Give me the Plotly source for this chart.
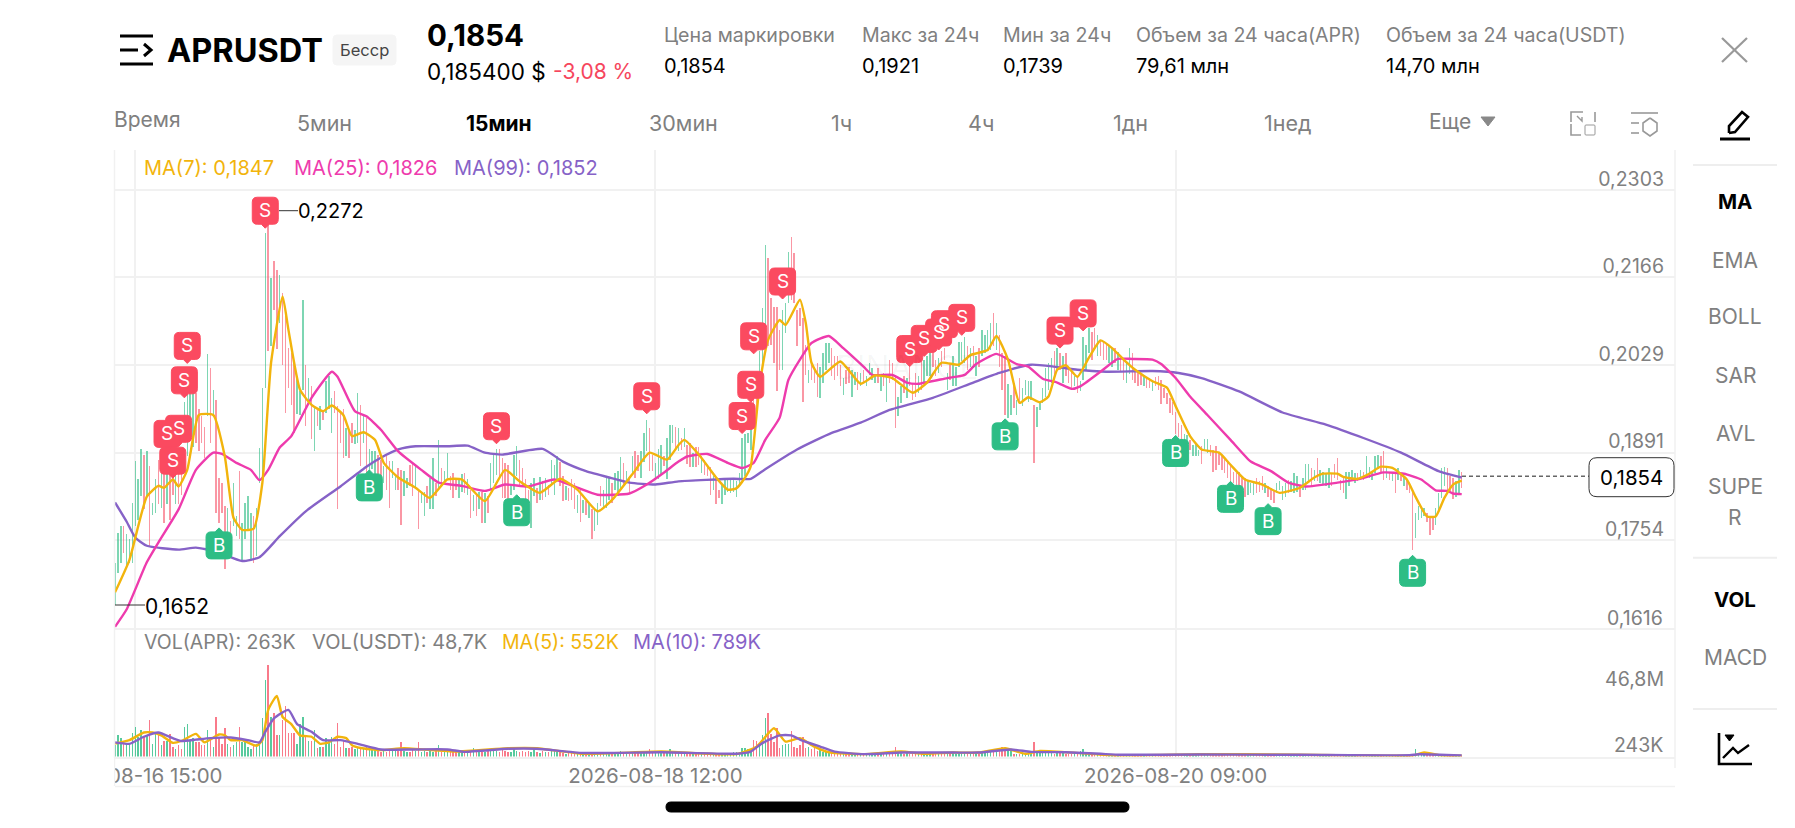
import pandas as pd
import plotly.graph_objects as go

W, H = 1795, 828

# 15 minute candles, prices are price * 10000
start_time = "2026-08-16 13:15"
highs = [
    1718,1765,1776,1776,1763,1755,1812,1878,1849,1896,
    1888,1893,1870,1812,1849,1880,1885,1870,1860,1890,
    1872,1865,1885,1880,1970,1985,1990,1985,1985,1960,
    1948,1932,2045,2024,1990,1974,1852,1844,1807,1805,
    1784,1844,1792,1862,1781,1812,1823,1797,1792,1805,
    1899,1992,2235,2272,2165,2191,2178,2170,2141,2105,
    2055,2047,2032,2006,1987,2131,2029,2008,1995,1961,
    1959,1964,1958,2003,2011,1977,1987,1964,1953,1959,
    1930,1927,1938,1927,1985,1966,1951,1946,1896,1893,
    1893,1888,1880,1870,1886,1878,1878,1857,1867,1864,
    1862,1851,1872,1875,1870,1833,1828,1830,1838,1851,
    1883,1843,1911,1867,1862,1891,1854,1859,1849,1849,
    1857,1859,1849,1833,1825,1825,1830,1830,1828,1823,
    1875,1888,1897,1896,1883,1875,1872,1841,1888,1902,
    1880,1867,1849,1833,1843,1851,1836,1853,1846,1851,
    1841,1880,1872,1885,1877,1854,1838,1836,1849,1843,
    1825,1836,1817,1815,1812,1802,1802,1812,1839,1833,
    1851,1851,1843,1859,1862,1884,1875,1862,1849,1885,
    1893,1888,1893,1922,1943,1930,1888,1875,1896,1903,
    1885,1914,1935,1935,1932,1930,1914,1929,1903,1906,
    1890,1900,1900,1885,1880,1869,1869,1854,1851,1833,
    1840,1848,1848,1848,1848,1846,1859,1914,1921,1922,
    1935,1974,1979,2050,2118,2217,2196,2133,2120,2120,
    2084,2115,2125,2206,2230,2204,2115,2118,2102,2060,
    2021,2031,2026,2031,2026,2047,2063,2063,2055,2042,
    2042,2029,2008,2021,2026,2021,2018,2018,2016,2021,
    2011,2031,2024,2013,2024,2011,2016,2011,2037,2031,
    2013,1979,1995,2011,2008,2031,2000,2016,2011,2034,
    2037,2042,2050,2052,2037,2039,2050,2055,2016,2031,
    2042,2026,2065,2065,2073,2058,2055,2058,2042,2055,
    2084,2076,2084,2094,2110,2094,2076,2047,2042,1998,
    1982,2000,1974,2008,1992,2005,2003,2003,1966,1963,
    1971,1992,2024,2031,2039,2050,2055,2047,2042,2047,
    2026,2021,2011,2011,2003,2073,2060,2086,2081,2086,
    2075,2068,2065,2062,2060,2055,2055,2049,2039,2036,
    2034,2055,2047,2021,2018,2013,2013,2010,2008,2005,
    2010,2011,2005,1992,1984,1976,1971,1955,1937,1934,
    1921,1919,1911,1903,1906,1895,1901,1912,1912,1903,
    1895,1901,1890,1885,1882,1880,1872,1861,1859,1861,
    1854,1851,1848,1843,1843,1851,1846,1854,1843,1838,
    1835,1833,1843,1846,1838,1843,1848,1846,1859,1854,
    1841,1851,1874,1874,1867,1864,1882,1864,1861,1859,
    1867,1859,1874,1882,1848,1854,1861,1861,1864,1859,
    1859,1864,1861,1885,1869,1861,1885,1887,1885,1893,
    1869,1861,1861,1861,1867,1859,1854,1848,1840,1833,
    1796,1807,1804,1804,1796,1791,1791,1804,1827,1867,
    1869,1867,1854,1851,1846,1864,1861,
]
lows = [
    1652,1703,1718,1734,1708,1718,1718,1776,1786,1823,
    1802,1823,1745,1794,1797,1810,1805,1780,1810,1785,
    1825,1810,1810,1825,1920,1885,1925,1900,1906,1893,
    1906,1883,1948,1906,1950,1797,1781,1797,1708,1765,
    1739,1776,1760,1755,1721,1755,1771,1724,1718,1729,
    1844,1854,1992,2050,2058,2115,2053,2094,2029,1953,
    1993,1966,1922,1951,1950,1990,1933,1972,1912,1893,
    1933,1927,1942,1953,1959,1922,1953,1802,1906,1883,
    1886,1883,1906,1904,1906,1870,1906,1859,1859,1865,
    1844,1839,1839,1844,1833,1805,1852,1833,1833,1777,
    1823,1836,1838,1823,1836,1771,1812,1792,1812,1802,
    1802,1823,1836,1843,1843,1851,1833,1820,1833,1820,
    1830,1828,1825,1789,1799,1791,1802,1781,1781,1796,
    1833,1843,1856,1849,1820,1820,1812,1825,1833,1854,
    1838,1841,1812,1807,1773,1823,1812,1817,1817,1822,
    1825,1838,1825,1849,1838,1815,1817,1815,1817,1802,
    1796,1783,1796,1794,1789,1756,1768,1778,1807,1802,
    1804,1817,1812,1833,1823,1833,1841,1843,1828,1857,
    1851,1862,1851,1877,1893,1862,1862,1849,1849,1856,
    1870,1849,1880,1906,1896,1893,1895,1900,1874,1869,
    1869,1869,1872,1859,1856,1854,1825,1833,1810,1820,
    1810,1825,1830,1828,1830,1822,1838,1848,1854,1906,
    1895,1932,1943,2011,2026,2068,2058,2060,2031,1987,
    2021,2021,2078,2125,2131,2125,2058,2089,1971,2013,
    2000,2005,2000,1979,1977,2000,2021,2031,2011,2005,
    2011,1995,1982,1998,2000,1979,1997,1990,1995,2000,
    1995,2013,2005,2000,2000,1987,1995,1971,2000,2005,
    1930,1948,1969,1984,1977,1995,1974,1979,1984,1990,
    2000,2011,2011,2026,2011,2016,2026,2037,1990,2005,
    1995,1995,2026,2034,2031,2021,2026,2024,2011,2026,
    2042,2047,2050,2052,2058,2052,2026,1990,1950,1945,
    1950,1961,1950,1969,1964,1982,1971,1974,1875,1932,
    1958,1969,1979,1990,2000,2011,2021,2021,2000,2011,
    2000,1990,1995,1984,1987,2005,2021,2047,2036,2055,
    2042,2042,2036,2036,2031,2026,2031,2021,2018,2005,
    2000,2015,2005,2000,1995,1997,1995,1992,1992,1987,
    1995,1989,1968,1976,1968,1953,1950,1921,1916,1911,
    1903,1901,1895,1885,1885,1885,1874,1893,1890,1885,
    1861,1864,1872,1864,1859,1851,1846,1843,1838,1833,
    1835,1822,1825,1827,1825,1827,1830,1833,1827,1822,
    1817,1812,1827,1833,1817,1822,1827,1830,1827,1830,
    1822,1833,1833,1843,1838,1846,1846,1843,1841,1838,
    1835,1838,1851,1848,1833,1827,1818,1838,1846,1843,
    1846,1851,1848,1854,1851,1848,1859,1867,1859,1848,
    1851,1848,1846,1827,1848,1846,1838,1833,1827,1739,
    1757,1786,1788,1791,1783,1762,1770,1778,1801,1820,
    1838,1833,1827,1818,1822,1827,1835,
]
sides = (
    "gggrgggggg" "rgrggrgrgr" "rgrrggggrr" "rrgrgrrrrg" "rggrggggrg"
    "gggrgrrgrr" "rrrgggrgrg" "rgrgggrrrr" "grrggrgrgg" "grrgrrggrr"
    "ggrrgrggrg" "grgrggrrrg" "grgrgrgrgr" "gggrrrrggg" "rrrrggrgrg"
    "rgggrrgrrr" "grgrgrggrg" "ggrgggrgrg" "rrgggrrggg" "rgggrgrgrr"
    "grrgrrrgrr" "gggggggggg" "grrgggrrrr" "rgggrrrrrr" "grrrggggrr"
    "rrgrrggrgr" "ggggrgrgrr" "rggrgrrrgr" "gggrrgrrgr" "gggggrgrgr"
    "ggggrgrrrg" "grgrggggrg" "gggggrgrgr" "rrgrggggrr" "grrrggrgrr"
    "ggrrrrgrrg" "rrrrrrrrrr" "ggrgggrggr" "rrrrrrrrrr" "rrgggrrrgr"
    "rrggggrggg" "rgggrgrggg" "grrrrrgggg" "rgrgggggrr" "grgrgrgrrr"
    "ggggrrrggg" "grrrggr"
)
volumes = [
    8,15,13,9,9,9,17,21,14,19,
    14,15,26,9,16,16,8,11,11,16,
    7,5,8,5,21,23,12,13,10,10,
    8,8,19,12,7,28,14,9,20,9,
    7,8,10,21,10,12,7,5,9,9,
    9,27,54,65,28,31,15,15,26,36,
    17,17,17,9,23,28,15,11,11,19,
    6,7,7,13,12,14,9,24,7,12,
    6,6,7,5,7,5,6,8,6,6,
    4.5,6,3.5,4,3,5,6,4,4,10,
    4,3,3,5,4,10,3,4,3,4,
    3,4,8,3,4,3,5,3,3,4,
    3,3,2.5,4,6,3,4,3,3,5,
    5,6,4,3,6,4,3,3,5,4,
    3,4,3,4,3,5,3,2.5,4,3,
    3,5,4,3,4,2.5,2,3,2.5,2,
    2,3,2,1.5,2,2.5,2,2,1.5,2.5,
    2.5,2,3,2,3,4,2.5,3,2,3,
    3,2.5,4,4,3,5,3,3,3.5,3,
    2.5,3,5,4,3,3,2.5,3,2,2.5,
    2,2.5,2,1.5,2,1.5,2,2,1.5,2,
    2,2,2,2.5,3,3,3,6,6,5,
    5,12,11,9,15,27,31,16,10,20,
    6,8,9,9,18,7,6,8,14,6,
    7,5,6,4,5,3,4,3,3,3,
    2.5,2,2,1.5,2,1.5,1.5,2,1.5,1.5,
    2,2,2,1.5,3,2,2,2.5,3,4,
    7,3,3,2,2.5,2,2,2,1.5,2,
    2,2,2,1.5,1.5,2,2,3,2,2,
    2.5,2,3,2.5,3,2,3,2.5,3,2,
    3,4,3,4,5,5,6,7,6,6,
    5,2,2,1.5,2,2,3,3,10,3,
    3,3,2.5,3,3,2,3,3,3,2,
    2,2,2.5,2,4,5,2.5,3,2,2,
    1.5,1,1,1,1.5,1,1,.8,1,.8,
    1,1,.8,.8,1,1,.8,1,.8,1,
    1,1,.8,1,1,1,1,1.5,2,1.5,
    1.5,1.5,1.5,1.5,1.5,1.5,1.8,1.8,1.5,1.5,
    1.5,1.5,1.5,1.5,1.5,1.5,1.8,1.5,1.5,1.5,
    1.5,1.5,1,1.5,1.5,1.5,1.5,1.8,1.5,1.5,
    1.5,1.5,1,1,1.5,1,1,1,1,1,
    1,1.5,1,1,1,1,1.5,1,1,1,
    1,1,1,1,1,1,1.5,1,1,.8,
    .8,1,.8,1,1,.8,1,.8,1,1,
    .8,1,.8,1,.8,1,.8,1,1,2,
    5,2,1.5,1.5,1,1.5,1,1,1.5,2,
    1.5,1,1,1.5,1,.8,.3,
]

# moving averages at these candle numbers
ma7_idx = [0,5,11,15,17,20,22,25,29,34,38,41,44,48,51,54,58,60,64,68,72,75,79,82,86,90,93,98,104,109,115,120,128,135,140,147,154,160,167,172,179,185,191,195,197,202,208,212,215,218,220,223,226,230,232,237,239,241,244,251,258,263,269,276,281,286,292,296,302,305,309,313,316,320,323,326,329,333,337,341,345,349,353,359,364,367,372,376,382,386,391,397,403,410,415,418,423,425,430,434,438,442,447,450,454,457,460,463,466]
ma7_vals = [1672,1723,1822,1839,1836,1849,1838,1864,1950,1950,1885,1789,1770,1772,1844,2032,2136,2084,1990,1966,1956,1965,1950,1917,1923,1911,1875,1852,1836,1820,1849,1849,1815,1864,1846,1828,1850,1833,1799,1817,1857,1891,1880,1903,1911,1888,1852,1833,1835,1852,1870,1995,2068,2099,2091,2131,2095,2032,2010,2034,1999,2012,2008,1985,2001,2032,2029,2044,2052,2074,2037,1969,1978,1970,1979,2021,2028,2010,2040,2067,2055,2037,2021,2003,1993,1964,1917,1896,1891,1872,1849,1841,1828,1836,1852,1858,1858,1853,1850,1858,1869,1867,1849,1822,1791,1791,1820,1841,1847]
ma25_idx = [0,4,11,15,22,28,34,37,42,47,50,53,57,61,68,75,77,83,87,92,98,106,112,120,128,135,143,152,160,167,178,184,190,195,198,205,212,217,221,225,230,233,237,241,247,252,259,262,269,274,278,288,294,298,305,312,316,321,326,331,334,341,347,352,359,362,367,372,378,386,393,400,406,412,423,430,439,446,452,457,461,463,466]
ma25_vals = [1618,1645,1719,1750,1802,1864,1891,1889,1875,1864,1848,1864,1899,1917,1977,2018,2010,1956,1948,1927,1893,1864,1844,1839,1831,1841,1838,1849,1836,1825,1827,1841,1860,1877,1885,1889,1875,1867,1875,1911,1946,2005,2037,2063,2074,2055,2026,2013,2013,2001,1999,2008,2013,2030,2046,2030,2026,2007,2001,1991,1995,2018,2038,2038,2037,2030,2008,1979,1950,1911,1877,1862,1844,1838,1844,1849,1860,1858,1849,1832,1831,1827,1826]
ma99_idx = [0,4,7,11,22,28,35,44,50,57,66,78,87,92,98,104,115,122,128,134,148,155,163,171,178,187,195,214,220,225,236,248,258,268,283,297,306,317,325,333,343,359,368,376,389,404,419,432,445,458,466]
ma99_vals = [1813,1783,1758,1745,1739,1742,1736,1721,1727,1760,1799,1838,1869,1883,1896,1901,1901,1902,1891,1888,1897,1877,1862,1852,1844,1841,1846,1850,1850,1865,1896,1922,1938,1958,1977,2001,2016,2029,2026,2021,2018,2019,2016,2008,1987,1954,1935,1914,1891,1862,1852]

vol_ma5_idx = [0,5,10,13,16,20,23,28,31,36,38,40,44,49,51,53,56,58,61,64,68,71,74,77,80,82,85,92,100,118,136,146,162,189,215,222,228,232,237,242,247,259,272,280,290,299,308,315,320,334,346,375,392,410,436,449,453,459,466]
vol_ma5_vals = [9.2,11.6,17,17,15,9.7,11,16,10,15.6,15,11.6,11.6,7.6,11.6,33,43,28,23,15,14,9,10,14,13,8,6,4.5,5.9,3.5,5.9,5.9,1.9,3.5,1.7,7,20,10.6,13,7,3,1.7,3.5,1.9,2.8,2.8,5.9,1.9,4,2.4,.7,1.6,1.6,1.2,.7,.7,2.8,.7,.6]
vol_ma10_idx = [0,5,10,15,20,23,28,33,40,46,50,52,55,60,63,68,72,78,84,92,104,115,121,136,146,162,189,215,220,224,230,234,237,244,249,259,272,290,299,310,317,329,341,348,375,410,448,451,466]
vol_ma10_vals = [10,9,14,17,13,11,12,13,13.5,11.6,10,17.5,27,33,23,17.5,11.6,11.6,9,5,5,5,3.3,5.5,5.5,2.5,3,2,3.5,9.5,15,15,12,7,3.5,1.7,2.8,2.8,2.8,5,3.3,3,1.9,1.2,1.4,1.2,.9,1.6,.8]

# trade markers: candle number and price at the tip of the badge
sell_idx = [25,24,22,18,20,52,132,184,217,220,221,231,275,280,285,287,293,327,335]
sell_prices = [2031,1977,1901,1893,1851,2243,1905,1952,1921,1970,2046,2132,2026,2042,2052,2065,2075,2055,2082]
buy_idx = [36,88,139,308,367,386,399,449]
buy_prices = [1773,1864,1825,1944,1918,1846,1811,1730]

price_ticks = [0.2303, 0.2166, 0.2029, 0.1891, 0.1754, 0.1616]
price_labels = ["0,2303", "0,2166", "0,2029", "0,1891", "0,1754", "0,1616"]
vol_ticks = [46.8, 0.243]
vol_labels = ["46,8M", "243K"]
date_ticks = ["2026-08-16 15:00", "2026-08-18 12:00", "2026-08-20 09:00"]

GREEN = "rgba(46,189,133,0.62)"
RED = "rgba(246,70,93,0.56)"
GREEN_VOL = "rgba(46,189,133,0.8)"
RED_VOL = "rgba(246,70,93,0.72)"
ORANGE = "#f2b40c"
PINK = "#ee3bad"
PURPLE = "#8662c7"
GRAY = "#808080"
GRID = "#f1f1f1"
FONT = "Inter"

times = pd.date_range(start_time, periods=len(highs), freq="15min")
time_end = pd.Timestamp(start_time) + pd.Timedelta(minutes=15 * 539.8)
candle_ms = 15 * 60 * 1000


def fx(x):
    return x / W


def fy(y):
    return 1 - y / H


def label(text, x, y, size=20, color="black", anchor="left"):
    # annotations carry a small padding, take it back for left aligned text
    shift = -2 if anchor == "left" else 0
    return dict(text=text, x=fx(x), y=fy(y), xref="paper", yref="paper", xanchor=anchor, yanchor="middle",
                showarrow=False, xshift=shift, font=dict(size=size, color=color, family=FONT))


def line(x0, y0, x1, y1, color="black", width=1, dash="solid"):
    return dict(type="line", xref="paper", yref="paper", x0=fx(x0), y0=fy(y0), x1=fx(x1), y1=fy(y1),
                line=dict(color=color, width=width, dash=dash), layer="above")


def poly(points, color="black", width=2, fill=None):
    path = "M" + " L".join(f"{fx(x)},{fy(y)}" for x, y in points)
    if fill:
        path += " Z"
    return dict(type="path", xref="paper", yref="paper", path=path, layer="above",
                line=dict(color=color, width=width), fillcolor=fill or "rgba(0,0,0,0)")


def rrect(x0, y0, x1, y1, r, fill, border=None):
    path = (f"M{fx(x0 + r)},{fy(y0)} L{fx(x1 - r)},{fy(y0)} Q{fx(x1)},{fy(y0)} {fx(x1)},{fy(y0 + r)} "
            f"L{fx(x1)},{fy(y1 - r)} Q{fx(x1)},{fy(y1)} {fx(x1 - r)},{fy(y1)} "
            f"L{fx(x0 + r)},{fy(y1)} Q{fx(x0)},{fy(y1)} {fx(x0)},{fy(y1 - r)} "
            f"L{fx(x0)},{fy(y0 + r)} Q{fx(x0)},{fy(y0)} {fx(x0 + r)},{fy(y0)} Z")
    return dict(type="path", xref="paper", yref="paper", path=path, layer="above", fillcolor=fill,
                line=dict(color=border or fill, width=1))


def badge(idx, price, kind):
    # tip sits on the price, body above it for S and below it for B
    d = 1 if kind == "S" else -1
    pts = (f"M0,0 L-4,{4*d} L-8,{4*d} Q-13,{4*d} -13,{9*d} L-13,{26*d} Q-13,{31*d} -8,{31*d} "
           f"L8,{31*d} Q13,{31*d} 13,{26*d} L13,{9*d} Q13,{4*d} 8,{4*d} L4,{4*d} Z")
    color = "#fb4a60" if kind == "S" else "#2dbd85"
    shape = dict(type="path", xref="x", yref="y", xsizemode="pixel", ysizemode="pixel",
                 xanchor=str(times[idx]), yanchor=price / 10000, path=pts, fillcolor=color,
                 line=dict(color=color, width=1), layer="above")
    note = dict(text=kind, x=str(times[idx]), y=price / 10000, xref="x", yref="y", showarrow=False,
                yshift=17.5 * d, font=dict(size=19, color="white", family=FONT))
    return shape, note


fig = go.Figure()

# candles
fig.add_trace(go.Bar(
    x=times, y=[(h - l) / 10000 for h, l in zip(highs, lows)], base=[l / 10000 for l in lows],
    width=candle_ms * 0.5, marker=dict(color=[GREEN if s == "g" else RED for s in sides], line_width=0),
    xaxis="x", yaxis="y", hoverinfo="skip", showlegend=False))

for idx, vals, color in [(ma99_idx, ma99_vals, PURPLE), (ma25_idx, ma25_vals, PINK), (ma7_idx, ma7_vals, ORANGE)]:
    fig.add_trace(go.Scatter(
        x=times[idx], y=[v / 10000 for v in vals], mode="lines", xaxis="x", yaxis="y",
        line=dict(color=color, width=2.4, shape="spline", smoothing=0.5), showlegend=False, hoverinfo="skip"))

# volume
fig.add_trace(go.Bar(
    x=times, y=volumes, width=candle_ms * 0.5,
    marker=dict(color=[GREEN_VOL if s == "g" else RED_VOL for s in sides], line_width=0),
    xaxis="x2", yaxis="y2", hoverinfo="skip", showlegend=False))

for idx, vals, color in [(vol_ma5_idx, vol_ma5_vals, ORANGE), (vol_ma10_idx, vol_ma10_vals, PURPLE)]:
    fig.add_trace(go.Scatter(
        x=times[idx], y=vals, mode="lines", xaxis="x2", yaxis="y2",
        line=dict(color=color, width=2.4, shape="spline", smoothing=0.5), showlegend=False, hoverinfo="skip"))

shapes = []
notes = []

# panel frame
shapes.append(line(114.5, 150, 114.5, 786, GRID, 1.5))
shapes.append(line(1675, 150, 1675, 768, GRID, 1.5))
shapes.append(line(115, 786.5, 1675, 786.5, GRID, 1.5))
# hide the part of the first date that runs off the panel
shapes.append(dict(type="rect", xref="paper", yref="paper", x0=0, x1=fx(114), y0=fy(785), y1=fy(758),
                   fillcolor="white", line_width=0, layer="above"))

for idx, price in zip(sell_idx, sell_prices):
    s, n = badge(idx, price, "S")
    shapes.append(s)
    notes.append(n)
for idx, price in zip(buy_idx, buy_prices):
    s, n = badge(idx, price, "B")
    shapes.append(s)
    notes.append(n)

# plotly drops inside labels that stick out past the end of the axis
notes.append(label(price_labels[-1], 1665, 617.5, 19.5, GRAY, "right"))
notes.append(label(vol_labels[-1], 1665, 745, 19.5, GRAY, "right"))

# max / min pointers
shapes.append(line(279, 210.7, 298, 210.7, "#333", 1))
notes.append(label("0,2272", 298, 211, 20))
shapes.append(line(115, 605, 145, 605, "#333", 1))
notes.append(label("0,1652", 145, 606, 21))

# last price
shapes.append(dict(type="line", xref="paper", yref="y", x0=fx(1462), x1=fx(1589), y0=0.1854, y1=0.1854,
                   line=dict(color="#666", width=1.3, dash="4px,3px"), layer="above"))
shapes.append(rrect(1589, 457.7, 1674, 496.7, 8, "white", "#333"))
notes.append(label("0,1854", 1631.5, 477.5, 20.5, "black", "center"))

# watermark
notes.append(label("BINANCE", 836, 367, 32, "rgba(0,0,0,0.035)"))

# header
shapes += [line(120, 36, 153, 36, "black", 3), line(120, 50, 138, 50, "black", 3), line(120, 64, 153, 64, "black", 3)]
shapes.append(poly([(144, 44), (151, 50), (144, 56)], "black", 3))
notes.append(label("<b>APRUSDT</b>", 167, 50, 32.5))
shapes.append(rrect(333, 35, 396, 65, 4, "#f5f5f5"))
notes.append(label("Бесср", 364.5, 50, 16.5, "#444", "center"))
notes.append(label("<b>0,1854</b>", 427, 35, 29.5))
notes.append(label("0,185400 $", 427, 71, 22.5))
notes.append(label("-3,08 %", 553, 71, 21, "#f6465d"))

for x, title, value in [(664, "Цена маркировки", "0,1854"), (862, "Макс за 24ч", "0,1921"),
                        (1003, "Мин за 24ч", "0,1739"), (1136, "Объем за 24 часа(APR)", "79,61 млн"),
                        (1386, "Объем за 24 часа(USDT)", "14,70 млн")]:
    notes.append(label(title, x, 35, 19.6, GRAY))
    notes.append(label(value, x, 66, 20))

shapes += [line(1722, 38, 1747, 62, "#999", 2.2), line(1747, 38, 1722, 62, "#999", 2.2)]

# time tabs
notes.append(label("Время", 114, 120, 21, GRAY))
for x, text in [(324, "5мин"), (683, "30мин"), (841, "1ч"), (981, "4ч"), (1130, "1дн"), (1288, "1нед")]:
    notes.append(label(text, x, 123, 21.5, GRAY, "center"))
notes.append(label("<b>15мин</b>", 499, 123, 21, "black", "center"))
notes.append(label("Еще", 1429, 122, 21, GRAY))
shapes.append(poly([(1481, 117), (1495, 117), (1488, 126)], "#888", 1, "#888"))

# small toolbar icons
shapes.append(poly([(1583, 112), (1571, 112), (1571, 122)], "#999", 1.6))
shapes.append(poly([(1595, 112), (1595, 122)], "#999", 1.6))
shapes.append(poly([(1571, 124), (1571, 135), (1581, 135)], "#999", 1.6))
shapes.append(poly([(1577, 116), (1582, 121), (1582, 117)], "#999", 1.4))
shapes.append(rrect(1585, 125, 1595, 135, 1, "white", "#999"))
shapes.append(line(1631, 113, 1658, 113, "#999", 1.6))
shapes.append(line(1631, 123, 1639, 123, "#999", 1.6))
shapes.append(line(1631, 133, 1639, 133, "#999", 1.6))
shapes.append(poly([(1650, 118), (1657, 123), (1657, 131), (1650, 136), (1643, 131), (1643, 123), (1650, 118)], "#999", 1.6))

# legends
notes.append(label("MA(7): 0,1847", 144, 168, 20, ORANGE))
notes.append(label("MA(25): 0,1826", 294, 168, 20, PINK))
notes.append(label("MA(99): 0,1852", 454, 168, 20, PURPLE))
notes.append(label("VOL(APR): 263K", 144, 642, 19.5, GRAY))
notes.append(label("VOL(USDT): 48,7K", 312, 642, 20, GRAY))
notes.append(label("MA(5): 552K", 502, 642, 19.5, ORANGE))
notes.append(label("MA(10): 789K", 633, 642, 20, PURPLE))

# right side menu
shapes.append(poly([(1729, 133), (1729, 126), (1742, 112), (1748, 117), (1735, 132), (1729, 133)], "black", 2.6))
shapes.append(line(1720, 139, 1750, 139, "black", 3))
shapes.append(line(1693, 165, 1777, 165, "#eeeeee", 2))
for y, text in [(260, "EMA"), (317, "BOLL"), (375, "SAR"), (433, "AVL"), (486.5, "SUPE"), (517.5, "R"), (657, "MACD")]:
    notes.append(label(text, 1735, y, 21, GRAY, "center"))
notes.append(label("<b>MA</b>", 1735, 201.5, 20.5, "black", "center"))
notes.append(label("<b>VOL</b>", 1735, 599, 20.5, "black", "center"))
shapes.append(line(1693, 557.7, 1777, 557.7, "#eeeeee", 2))
shapes.append(line(1693, 709, 1777, 709, "#eeeeee", 2))
shapes.append(poly([(1719, 733), (1719, 764), (1752, 764)], "black", 2.6))
shapes.append(poly([(1723, 758), (1733, 748), (1738, 753), (1749, 745)], "black", 2.4))
shapes.append(poly([(1725, 735), (1734, 735), (1729.5, 741)], "black", 1, "black"))

# home indicator
shapes.append(rrect(666, 802, 1129, 812, 5, "black"))

price_axis = dict(
    domain=[fy(628), fy(150)], range=[0.1616, 0.23657], side="right", anchor="x", automargin=False,
    tickvals=price_ticks, ticktext=price_labels, ticks="", showline=False, zeroline=False,
    gridcolor=GRID, gridwidth=1.5, ticklabelposition="inside", ticklabelshift=-11, ticklabelstandoff=8,
    tickfont=dict(size=19.5, color=GRAY, family=FONT))
vol_axis = dict(
    domain=[fy(756.5), fy(628)], range=[0, 91.1], side="right", anchor="x2", automargin=False,
    tickvals=vol_ticks, ticktext=vol_labels, ticks="", showgrid=False, showline=False, zeroline=False,
    ticklabelposition="inside", ticklabelshift=-11, ticklabelstandoff=8,
    tickfont=dict(size=19.5, color=GRAY, family=FONT))
x_main = dict(
    domain=[fx(115), fx(1675)], range=[times[0], time_end], anchor="y", type="date", automargin=False,
    tickvals=date_ticks, showticklabels=False, ticks="", gridcolor=GRID, gridwidth=1.5,
    showline=True, linecolor=GRID, linewidth=1.5, zeroline=False)
x_vol = dict(
    domain=[fx(115), fx(1675)], range=[times[0], time_end], anchor="y2", type="date", automargin=False,
    tickvals=date_ticks, ticktext=date_ticks, tickangle=0, ticks="", gridcolor=GRID, gridwidth=1.5,
    showline=True, linecolor=GRID, linewidth=1.5, zeroline=False, ticklabelstandoff=0,
    tickfont=dict(size=20.5, color=GRAY, family=FONT))

fig.update_layout(
    width=W, height=H, margin=dict(l=0, r=0, t=0, b=0), paper_bgcolor="white", plot_bgcolor="white",
    barmode="overlay", bargap=0, font=dict(family=FONT), showlegend=False,
    xaxis=x_main, yaxis=price_axis, xaxis2=x_vol, yaxis2=vol_axis,
    shapes=shapes, annotations=notes)

fig.write_html("out.html", post_script="document.body.style.margin='0';", config=dict(displayModeBar=False))
